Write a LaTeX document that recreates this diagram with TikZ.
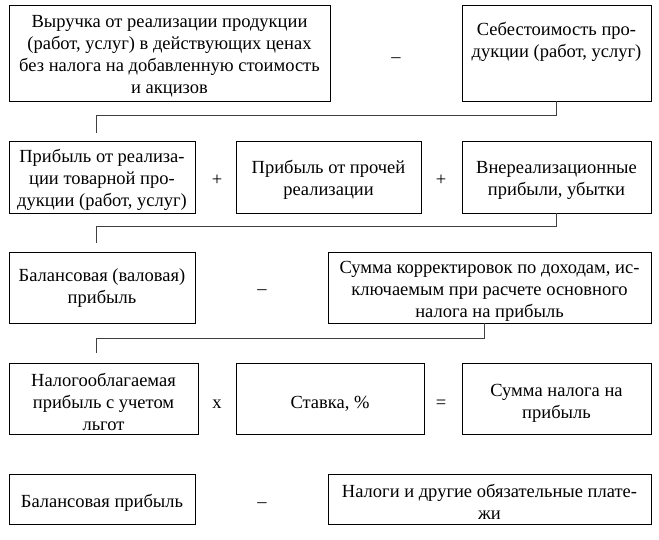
\documentclass[tikz,border=0pt]{standalone}
\usepackage{fontspec}
\setmainfont{Liberation Serif}
\begin{document}
\begin{tikzpicture}[x=1pt,y=-1pt,
  bx/.style={draw,line width=0.8pt},
  tx/.style={align=center,font=\fontsize{18.5}{22}\selectfont,inner sep=0pt},
  op/.style={font=\fontsize{18.5}{22}\selectfont,inner sep=0pt},
  ln/.style={draw=black!75,line width=1pt}]
\useasboundingbox (0,0) rectangle (659,540);
% row 1
\draw[bx] (9,5) rectangle (330,101); \node[tx] (a) at (169.5,56) {Выручка от реализации продукции\\(работ, услуг) в действующих ценах\\без налога на добавленную стоимость\\и акцизов};
\draw[bx] (462,5) rectangle (651,101); \node[tx] (b) at (556.5,42) {Себестоимость про-\\дукции (работ, услуг)};
\node[op] (m1) at (396,60) {–};
\draw[ln] (556,101) -- (556,116) -- (96,116) -- (96,133);
% row 2
\draw[bx] (9,141) rectangle (195,213); \node[tx] (c) at (102,180) {Прибыль от реализа-\\ции товарной про-\\дукции (работ, услуг)};
\draw[bx] (236,141) rectangle (421,213); \node[tx] (d) at (328.5,180) {Прибыль от прочей\\реализации};
\draw[bx] (462,141) rectangle (651,213); \node[tx] (e) at (556.5,180) {Внереализационные\\прибыли, убытки};
\node[op] (p1) at (217,180) {+};
\node[op] (p2) at (441,180) {+};
\draw[ln] (556,213) -- (556,227) -- (96,227) -- (96,243);
% row 3
\draw[bx] (9,252) rectangle (195,323); \node[tx] (f) at (102,288) {Балансовая (валовая)\\прибыль};
\draw[bx] (328,252) rectangle (651,323); \node[tx] (g) at (489.5,291) {Сумма корректировок по доходам, ис-\\ключаемым при расчете основного\\налога на прибыль};
\node[op] (m2) at (262,292) {–};
\draw[ln] (484,323) -- (484,338) -- (96,338) -- (96,353);
% row 4
\draw[bx] (9,363) rectangle (198,434); \node[tx] (h) at (103.5,402) {Налогооблагаемая\\прибыль с учетом\\льгот};
\draw[bx] (236,363) rectangle (424,434); \node[tx] (i) at (330,404) {Ставка, \%};
\draw[bx] (462,363) rectangle (651,434); \node[tx] (j) at (556.5,403) {Сумма налога на\\прибыль};
\node[op] (x1) at (217,404) {x};
\node[op] (q1) at (441,404) {=};
% row 5
\draw[bx] (9,474) rectangle (195,524); \node[tx] (k) at (102,503) {Балансовая прибыль};
\draw[bx] (328,474) rectangle (651,524); \node[tx] (l) at (489.5,502) {Налоги и другие обязательные плате-\\жи};
\node[op] (m3) at (262,505) {–};
\end{tikzpicture}
\end{document}
